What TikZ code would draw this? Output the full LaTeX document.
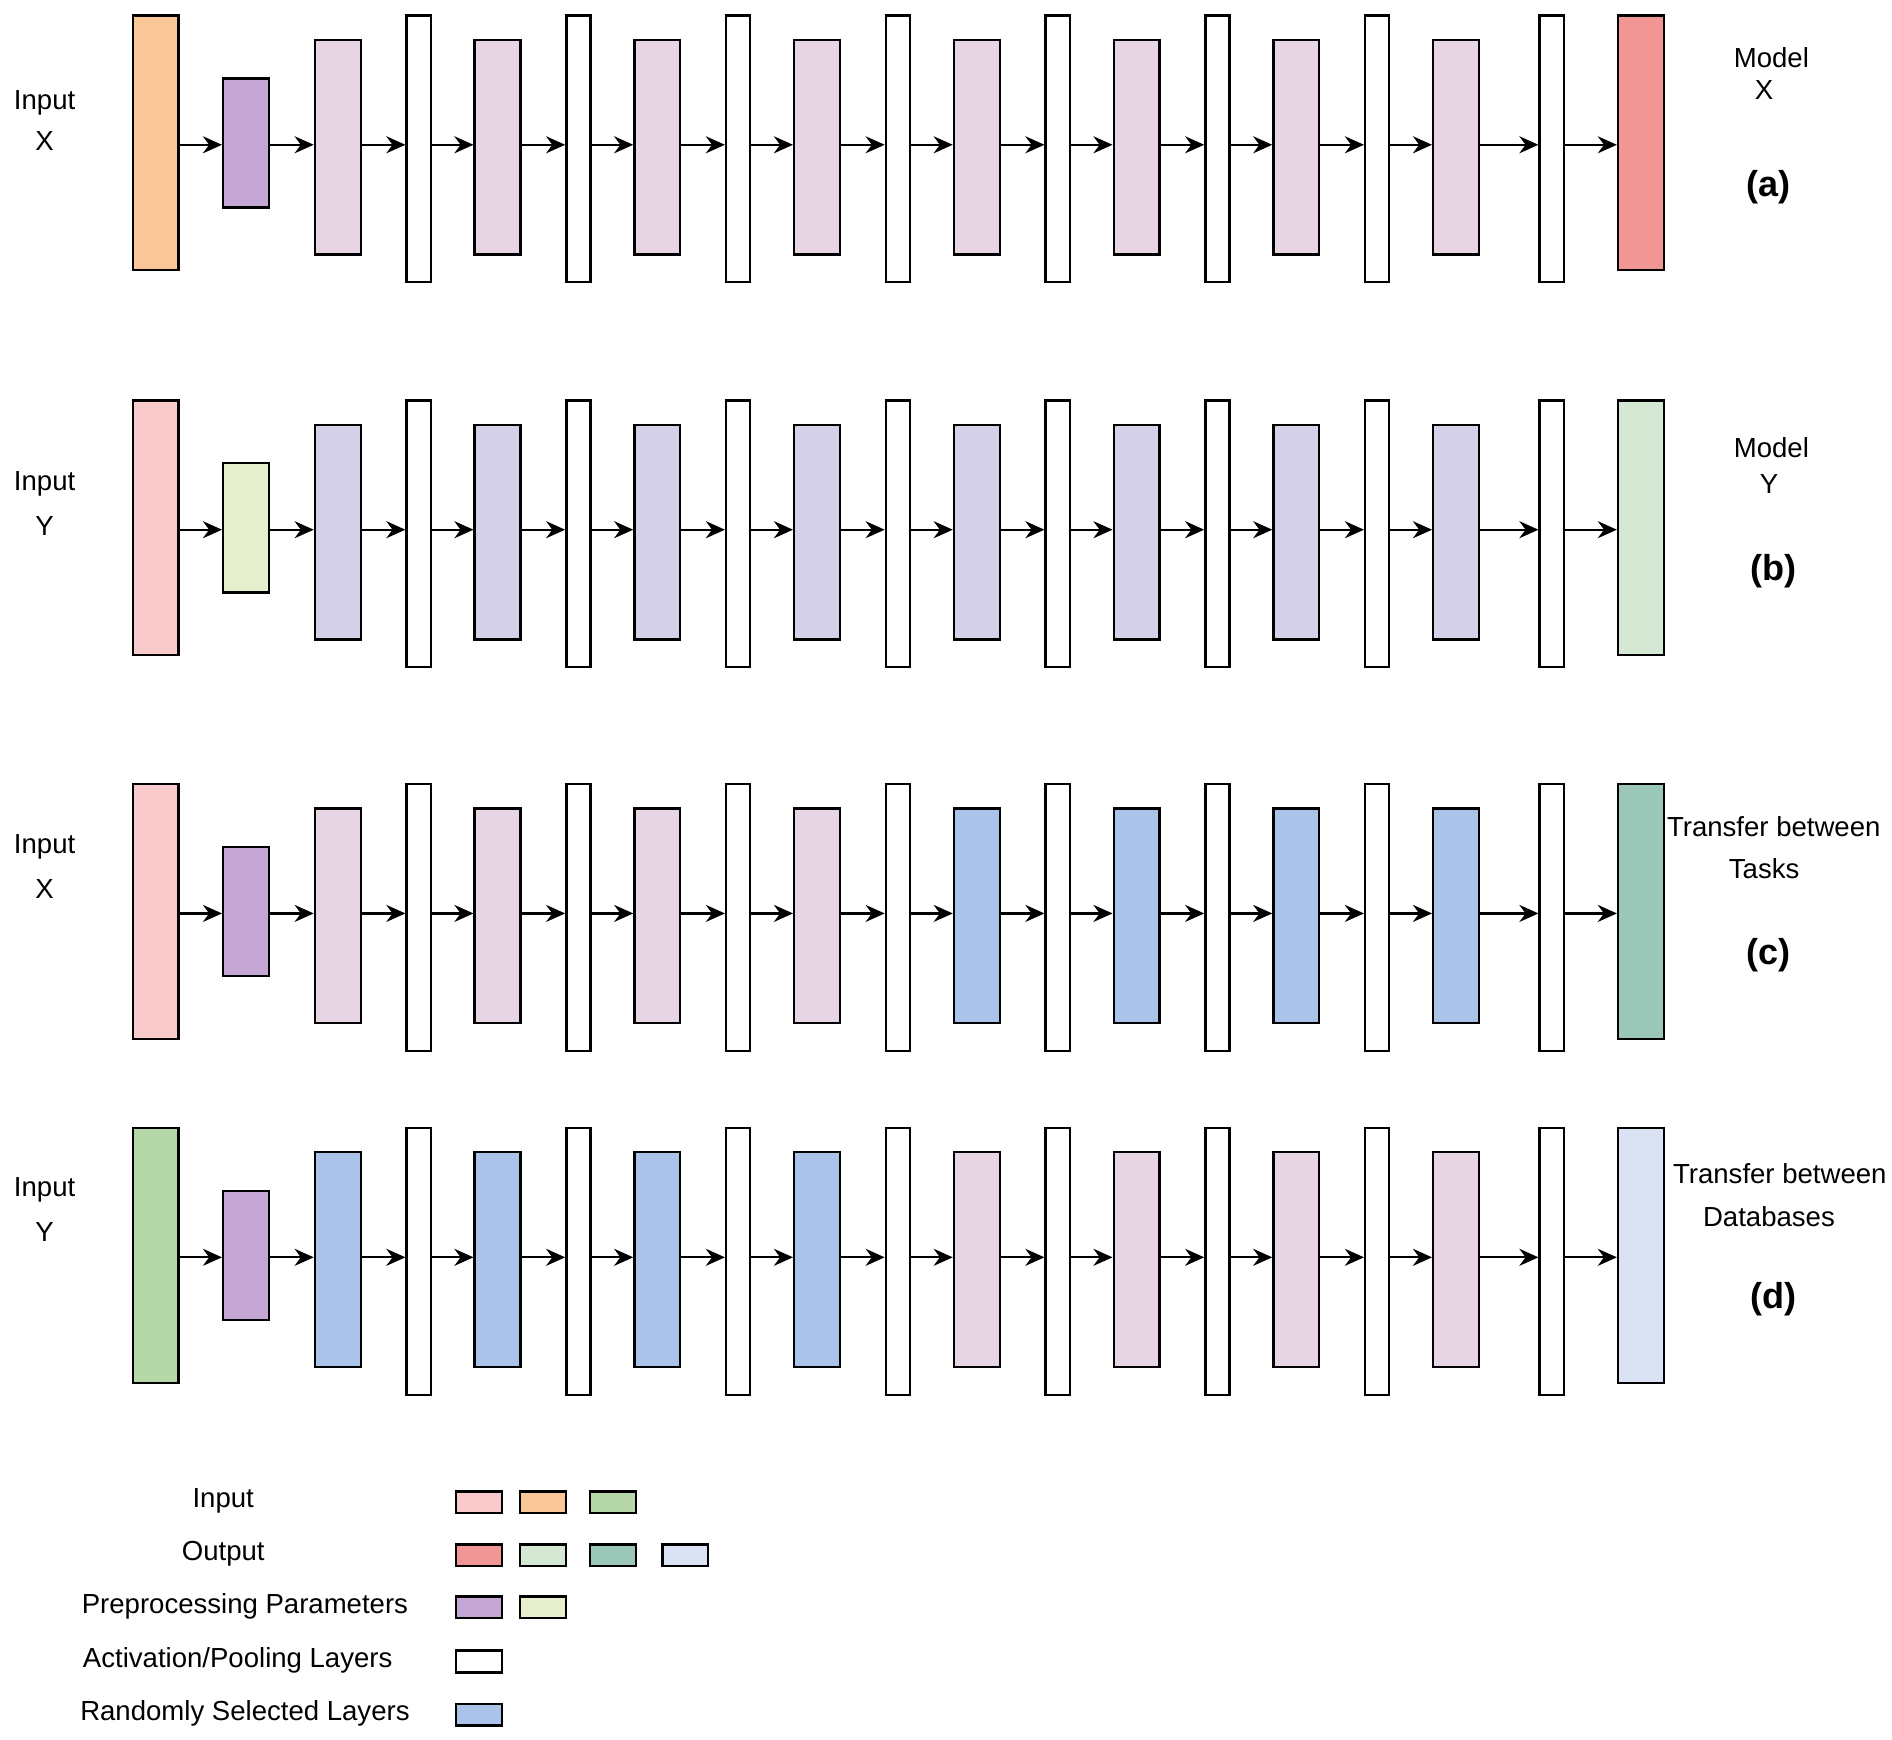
\documentclass[tikz,border=0pt]{standalone}
\usepackage{fontspec}
\setmainfont{Liberation Sans}
\usetikzlibrary{arrows.meta}
\definecolor{cOrange}{HTML}{FAC898}
\definecolor{cPurp}{HTML}{C3A6D4}
\definecolor{cPinkL}{HTML}{E8D5E4}
\definecolor{cRed}{HTML}{F29595}
\definecolor{cPink}{HTML}{F8CACC}
\definecolor{cYel}{HTML}{E6F0CC}
\definecolor{cLav}{HTML}{D4D0E8}
\definecolor{cLGreen}{HTML}{D5E8D4}
\definecolor{cTeal}{HTML}{9AC7B8}
\definecolor{cBlue}{HTML}{A9C4E8}
\definecolor{cGreen}{HTML}{B6D7A8}
\definecolor{cLBlue}{HTML}{DAE3F3}
\tikzset{
 box/.style={draw=black,line width=1.1pt,inner sep=0pt,anchor=north west,minimum width=0.76cm},
 bigbox/.style={box,minimum height=4.22cm},
 prebox/.style={box,minimum height=2.14cm},
 laybox/.style={box,minimum height=3.56cm},
 whitebox/.style={box,fill=white,minimum width=0.4cm,minimum height=4.42cm},
 arr/.style={-{Stealth[length=9pt,width=8pt]},line width=1.1pt},
 lab/.style={font=\fontsize{13}{15}\selectfont},
 blab/.style={font=\fontsize{17}{19}\selectfont\bfseries},
 sw/.style={draw=black,line width=1.1pt,minimum width=0.76cm,minimum height=0.36cm,inner sep=0pt,anchor=north west}
}
\newcommand\conn[3]{\draw[arr] (#1.east |- #3) -- (#2.west |- #3);}
\newcommand\netrow[6]{%
 \coordinate (#1y) at (0,#2+108);
 \node[bigbox,fill=#3] (#1in) at (109,#2) {};
 \node[prebox,fill=#4] (#1pre) at (184,#2+52) {};
 \node[bigbox,fill=#5] (#1out) at (1340,#2) {};
 \conn{#1in}{#1pre}{#1y}
 \foreach \c [count=\k] in {#6} {
  \pgfmathsetmacro\xl{260+132.4*(\k-1)}
  \ifnum\k=8 \def\xw{1275}\else\pgfmathsetmacro\xw{336+132.4*(\k-1)}\fi
  \node[laybox,fill=\c] (#1L\k) at (\xl,#2+20) {};
  \node[whitebox] (#1W\k) at (\xw,#2) {};
 }
 \conn{#1pre}{#1L1}{#1y}
 \foreach \k [evaluate=\k as \n using int(\k+1)] in {1,...,7} {
  \conn{#1L\k}{#1W\k}{#1y}
  \conn{#1W\k}{#1L\n}{#1y}
 }
 \conn{#1L8}{#1W8}{#1y}
 \conn{#1W8}{#1out}{#1y}
}
\begin{document}
\begin{tikzpicture}[x=0.02cm,y=-0.02cm]
\useasboundingbox (0,0) rectangle (1568,1442);
\netrow{a}{12}{cOrange}{cPurp}{cRed}{cPinkL,cPinkL,cPinkL,cPinkL,cPinkL,cPinkL,cPinkL,cPinkL}
\netrow{b}{331}{cPink}{cYel}{cLGreen}{cLav,cLav,cLav,cLav,cLav,cLav,cLav,cLav}
\netrow{c}{649}{cPink}{cPurp}{cTeal}{cPinkL,cPinkL,cPinkL,cPinkL,cBlue,cBlue,cBlue,cBlue}
\netrow{d}{934}{cGreen}{cPurp}{cLBlue}{cBlue,cBlue,cBlue,cBlue,cPinkL,cPinkL,cPinkL,cPinkL}
% left labels
\node[lab] (la1) at (37,85) {Input}; \node[lab] (la2) at (37,117) {X};
\node[lab] (lb1) at (37,401) {Input}; \node[lab] (lb2) at (37,436) {Y};
\node[lab] (lc1) at (37,702) {Input}; \node[lab] (lc2) at (37,737) {X};
\node[lab] (ld1) at (37,986) {Input}; \node[lab] (ld2) at (37,1021) {Y};
% right labels
\node[lab] (ra1) at (1468,48) {Model}; \node[lab] (ra2) at (1462,75) {X};
\node[blab] (ra3) at (1466,155) {(a)};
\node[lab] (rb1) at (1468,371) {Model}; \node[lab] (rb2) at (1466,401) {Y};
\node[blab] (rb3) at (1470,473) {(b)};
\node[lab] (rc1) at (1470,685) {Transfer between}; \node[lab] (rc2) at (1462,720) {Tasks};
\node[blab] (rc3) at (1466,792) {(c)};
\node[lab] (rd1) at (1475,973) {Transfer between}; \node[lab] (rd2) at (1466,1008) {Databases};
\node[blab] (rd3) at (1470,1077) {(d)};
% legend
\node[lab] (g1) at (185,1244) {Input};
\node[lab] (g2) at (185,1288) {Output};
\node[lab] (g3) at (203,1331) {Preprocessing Parameters};
\node[lab] (g4) at (197,1376) {Activation/Pooling Layers};
\node[lab] (g5) at (203,1420) {Randomly Selected Layers};
\node[sw,fill=cPink] (s11) at (377,1235) {};
\node[sw,fill=cOrange] (s12) at (430,1235) {};
\node[sw,fill=cGreen] (s13) at (488,1235) {};
\node[sw,fill=cRed] (s21) at (377,1279) {};
\node[sw,fill=cLGreen] (s22) at (430,1279) {};
\node[sw,fill=cTeal] (s23) at (488,1279) {};
\node[sw,fill=cLBlue] (s24) at (548,1279) {};
\node[sw,fill=cPurp] (s31) at (377,1322) {};
\node[sw,fill=cYel] (s32) at (430,1322) {};
\node[sw,fill=white] (s41) at (377,1367) {};
\node[sw,fill=cBlue] (s51) at (377,1411) {};
\end{tikzpicture}
\end{document}
